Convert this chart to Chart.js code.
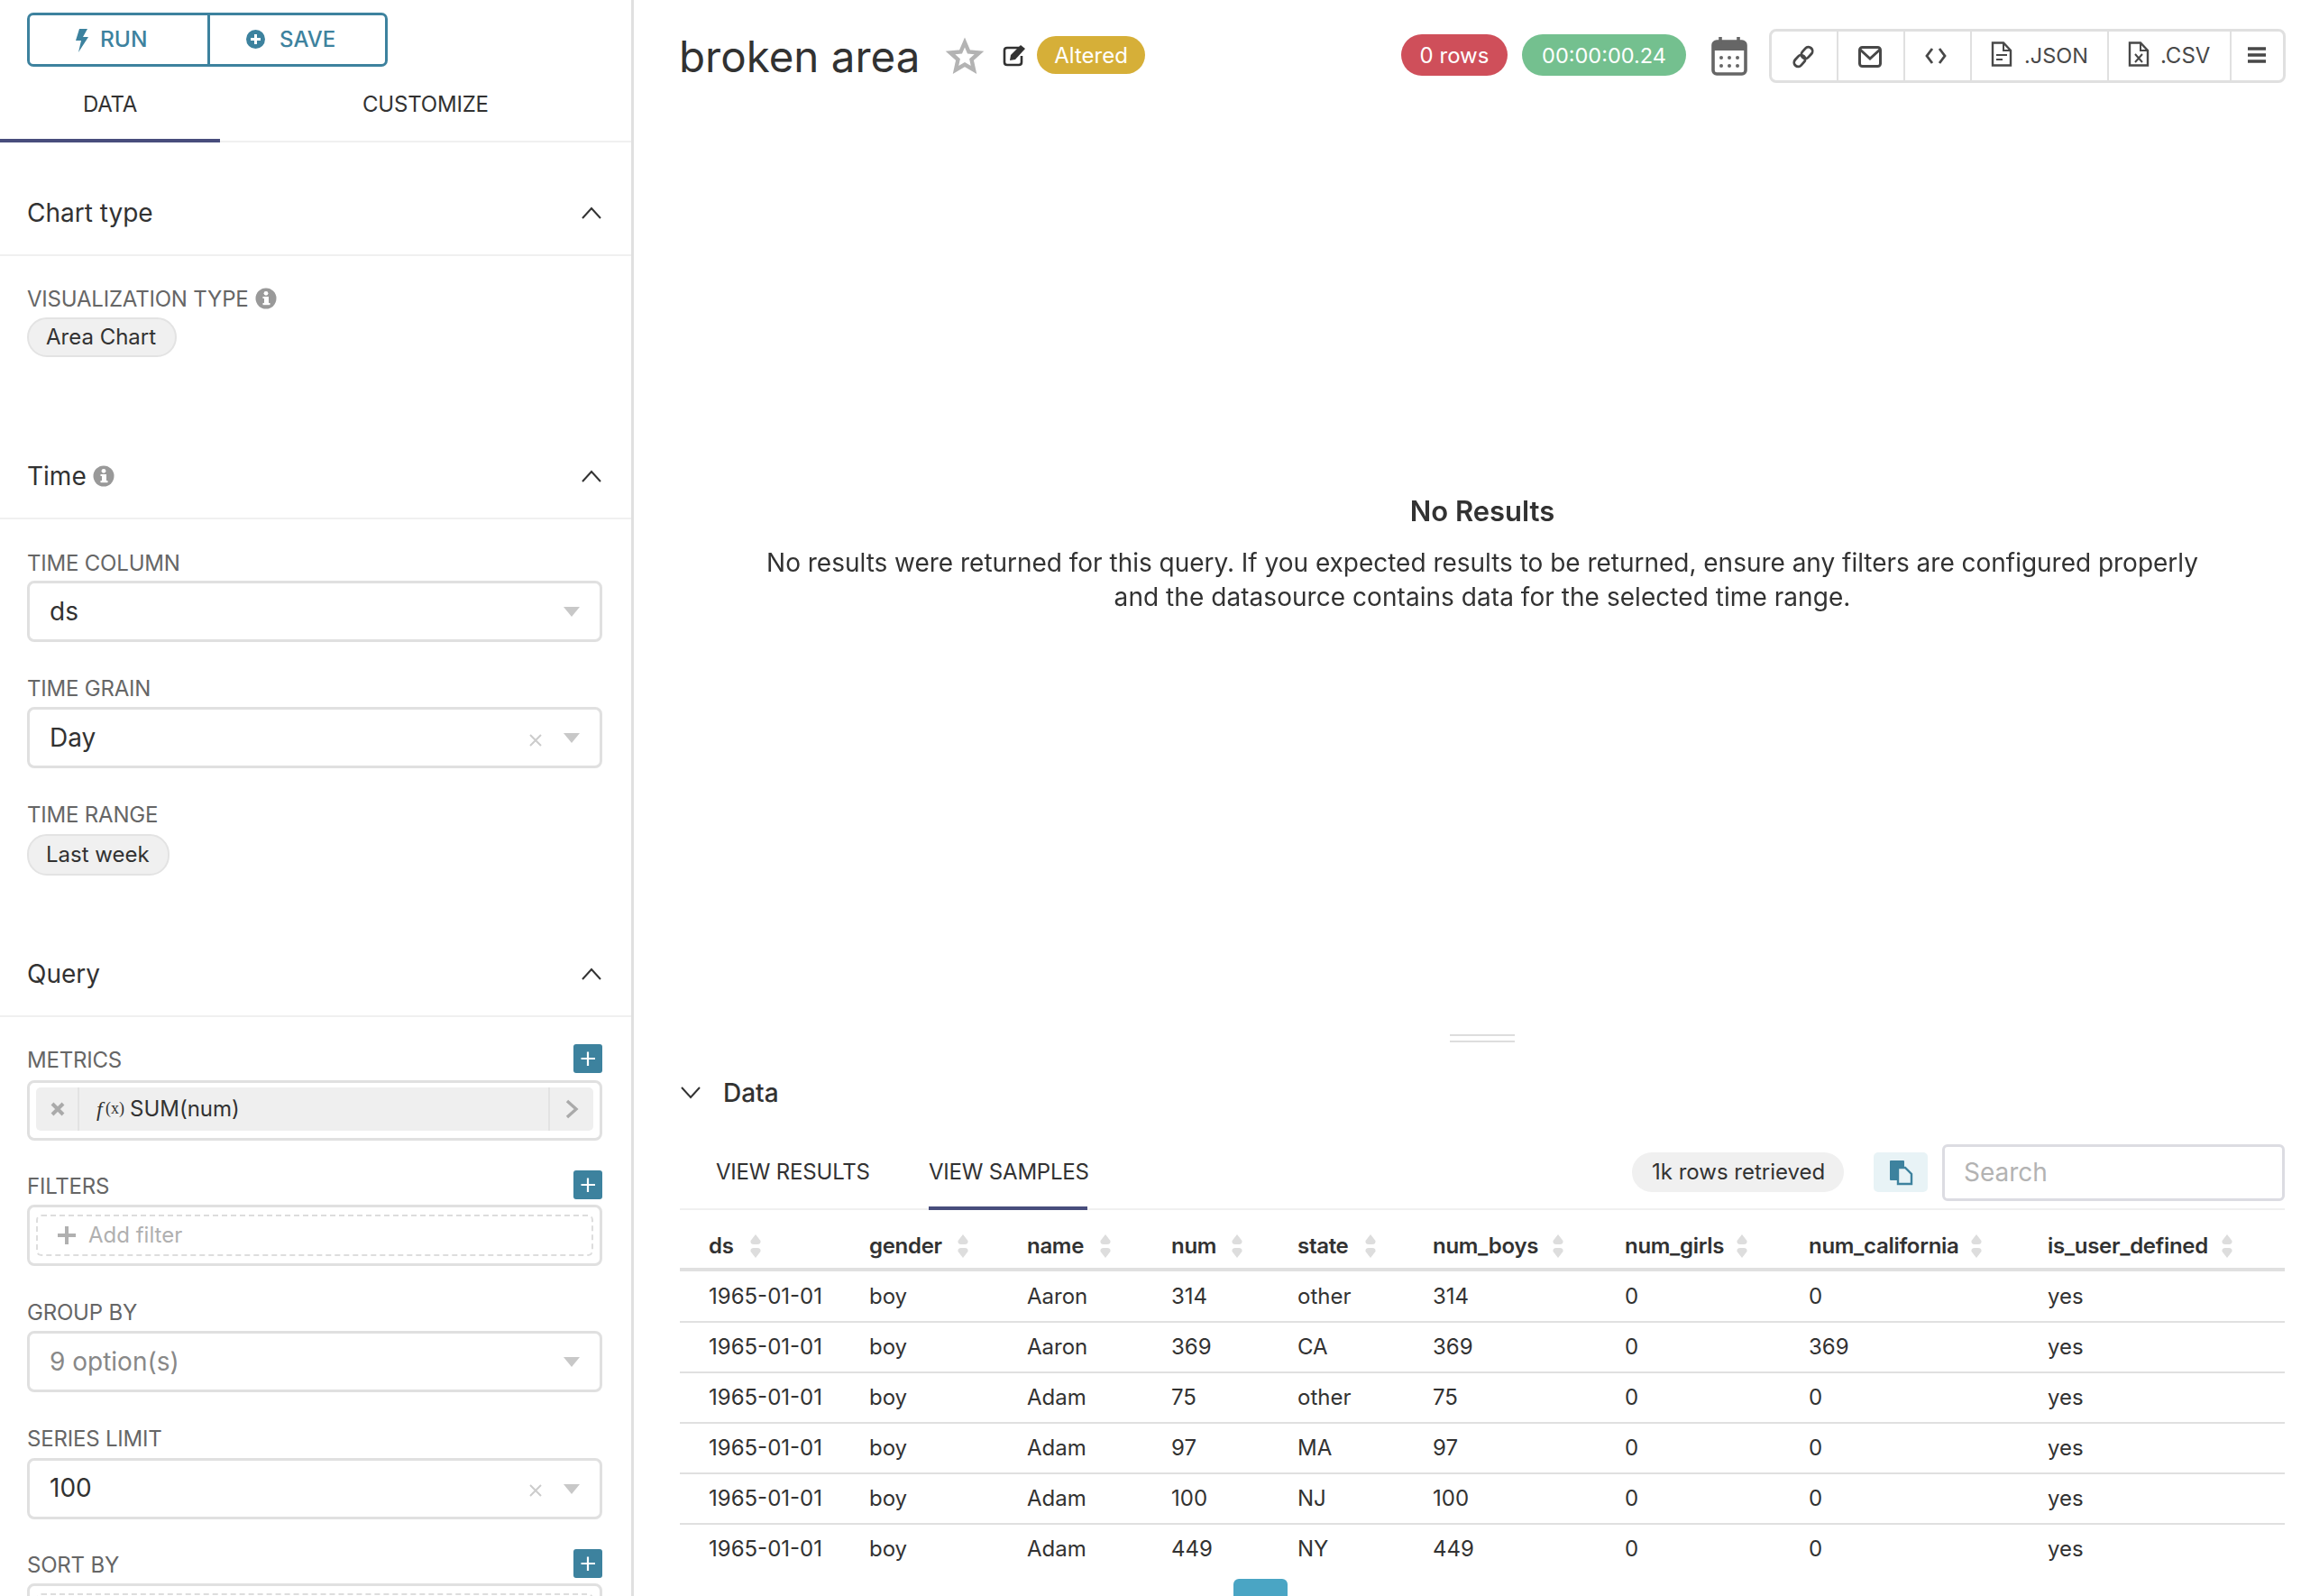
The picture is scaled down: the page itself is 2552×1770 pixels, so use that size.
<!DOCTYPE html>
<html>
<head>
<meta charset="utf-8">
<title>broken area</title>
<script src="https://cdn.jsdelivr.net/npm/chart.js@4"></script>
<style>
html, body { margin: 0; padding: 0; background: #fff; }
#page { position: relative; width: 2552px; height: 1770px; overflow: hidden; font-family: Inter, sans-serif; color: #323232; }
.t { position: absolute; white-space: nowrap; transform: translateY(-50%); line-height: 1.2; }
.b { position: absolute; box-sizing: border-box; }
svg { position: absolute; overflow: visible; }
.sec { font-size: 28px; }
.lab { font-size: 24px; color: #666; letter-spacing: -0.2px; }
.val { font-size: 28px; }
.cell { font-size: 24px; color: #323232; }
.head { font-size: 24px; font-weight: 600; letter-spacing: -0.3px; }
.box { border: 3px solid #e0e0e0; border-radius: 8px; background: #fff; }
.pill { background: #f0f0f0; border: 2px solid #e3e3e3; border-radius: 22px; }
.badge { color: #fff; font-size: 24px; text-align: center; transform: translate(-50%, -50%); }
#chartBox { position: absolute; left: 754px; top: 130px; width: 1780px; height: 990px; }
</style>
</head>
<body>
<div id="page">
  <div id="chartBox"><canvas id="areaChart"></canvas></div>
</div>
<script>
// query came back empty, so the area chart has no points
const chartLabels = [];
const chartValues = [];

const dsCol = ['1965-01-01', '1965-01-01', '1965-01-01', '1965-01-01', '1965-01-01', '1965-01-01'];
const genderCol = ['boy', 'boy', 'boy', 'boy', 'boy', 'boy'];
const nameCol = ['Aaron', 'Aaron', 'Adam', 'Adam', 'Adam', 'Adam'];
const numCol = [314, 369, 75, 97, 100, 449];
const stateCol = ['other', 'CA', 'other', 'MA', 'NJ', 'NY'];
const numBoysCol = [314, 369, 75, 97, 100, 449];
const numGirlsCol = [0, 0, 0, 0, 0, 0];
const numCaliforniaCol = [0, 369, 0, 0, 0, 0];
const isUserDefinedCol = ['yes', 'yes', 'yes', 'yes', 'yes', 'yes'];

const tableCols = [
    { title: 'ds', x: 786, sort: 838, values: dsCol },
    { title: 'gender', x: 964, sort: 1068, values: genderCol },
    { title: 'name', x: 1139, sort: 1226, values: nameCol },
    { title: 'num', x: 1299, sort: 1372, values: numCol },
    { title: 'state', x: 1439, sort: 1520, values: stateCol },
    { title: 'num_boys', x: 1589, sort: 1728, values: numBoysCol },
    { title: 'num_girls', x: 1802, sort: 1932, values: numGirlsCol },
    { title: 'num_california', x: 2006, sort: 2192, values: numCaliforniaCol },
    { title: 'is_user_defined', x: 2271, sort: 2470, values: isUserDefinedCol }
];
const rowY = [1438, 1494, 1550, 1606, 1662, 1718];
const rowLineY = [1465, 1521, 1577, 1633, 1689];

const page = document.getElementById('page');

function txt(x, cy, str, cls, style) {
    const el = document.createElement('div');
    el.className = 't ' + (cls || '');
    el.textContent = str;
    el.style.left = x + 'px';
    el.style.top = cy + 'px';
    if (style) el.style.cssText += style;
    page.appendChild(el);
    return el;
}

function box(x, y, w, h, cls, style) {
    const el = document.createElement('div');
    el.className = 'b ' + (cls || '');
    el.style.cssText = `left:${x}px;top:${y}px;width:${w}px;height:${h}px;` + (style || '');
    page.appendChild(el);
    return el;
}

function line(x, y, w, h, color) {
    return box(x, y, w, h, '', `background:${color};`);
}

function icon(x, y, w, h, inner) {
    const holder = document.createElement('div');
    holder.innerHTML = `<svg style="left:${x}px;top:${y}px" width="${w}" height="${h}" viewBox="0 0 ${w} ${h}">${inner}</svg>`;
    page.appendChild(holder.firstChild);
}

const TEAL = '#3d829e';
const chevronUp = (cx, cy) => icon(cx - 11, cy - 7, 22, 14, '<polyline points="1,13 11,2 21,13" fill="none" stroke="#323232" stroke-width="2"/>');
const caret = (cx, cy) => icon(cx - 9, cy - 5, 18, 11, '<polygon points="0,0 18,0 9,11" fill="#c8c8c8"/>');
const clearX = (cx, cy) => icon(cx - 7, cy - 7, 14, 14, '<path d="M1 1L13 13M13 1L1 13" stroke="#ccc" stroke-width="2"/>');
const infoDot = (cx, cy) => icon(cx - 12, cy - 12, 24, 24, '<circle cx="12" cy="12" r="11.5" fill="#999"/><rect x="10" y="10" width="5" height="8.5" fill="#fff"/><rect x="8.5" y="17" width="8" height="2.2" fill="#fff"/><rect x="8.5" y="10" width="3" height="2" fill="#fff"/><circle cx="12" cy="6.3" r="2.4" fill="#fff"/>');
const plusBtn = (y) => {
    box(636, y, 32, 32, '', `background:${TEAL};border-radius:3px;`);
    icon(636, y, 32, 32, '<path d="M16 8.5V24M8.5 16H24" stroke="#fff" stroke-width="2.2"/>');
};
const sortArrows = (cx, cy) => icon(cx - 6, cy - 13, 12, 26, '<path d="M6 0L11.5 7Q12 11 8 11H4Q0 11 .5 7Z" fill="#ddd"/><path d="M6 26L11.5 19Q12 15 8 15H4Q0 15 .5 19Z" fill="#ddd"/>');

// --- Left control panel ---
line(700, 0, 3, 1770, '#e0e0e0');

box(30, 14, 400, 60, '', `border:3px solid ${TEAL};border-radius:7px;`);
line(230, 14, 3, 60, TEAL);
icon(82, 32, 16, 26, `<polygon points="6,0 15,0 10,9 16,9 5,26 8,13 2,13" fill="${TEAL}"/>`);
txt(111, 44, 'RUN', '', `font-size:24.5px;font-weight:500;color:${TEAL};`);
icon(273, 33, 21, 21, `<circle cx="10.5" cy="10.5" r="10.5" fill="${TEAL}"/><path d="M10.5 5V16M5 10.5H16" stroke="#fff" stroke-width="3"/>`);
txt(310, 44, 'SAVE', '', `font-size:24px;font-weight:500;color:${TEAL};`);

txt(92, 116, 'DATA', '', 'font-size:24px;letter-spacing:-0.2px;');
txt(402, 116, 'CUSTOMIZE', '', 'font-size:24px;letter-spacing:-0.2px;');
line(0, 156, 700, 2, '#f0f0f0');
line(0, 154, 244, 4, '#484d7c');

txt(30, 237, 'Chart type', 'sec');
chevronUp(656, 236);
line(0, 282, 700, 2, '#f0f0f0');
txt(30, 332, 'VISUALIZATION TYPE', 'lab');
infoDot(295, 331);
box(30, 352, 166, 44, 'pill');
txt(51, 374, 'Area Chart', 'cell');

txt(30, 529, 'Time', 'sec');
infoDot(115, 528);
chevronUp(656, 528);
line(0, 574, 700, 2, '#f0f0f0');

txt(30, 625, 'TIME COLUMN', 'lab');
box(30, 644, 638, 68, 'box');
txt(55, 679, 'ds', 'val');
caret(634, 678);

txt(30, 764, 'TIME GRAIN', 'lab');
box(30, 784, 638, 68, 'box');
txt(55, 819, 'Day', 'val');
clearX(594, 821);
caret(634, 818);

txt(30, 904, 'TIME RANGE', 'lab');
box(30, 925, 158, 46, 'pill');
txt(51, 948, 'Last week', 'cell');

txt(30, 1081, 'Query', 'sec');
chevronUp(656, 1080);
line(0, 1126, 700, 2, '#f0f0f0');

txt(30, 1176, 'METRICS', 'lab');
plusBtn(1158);
box(30, 1198, 638, 67, 'box');
box(40, 1206, 618, 48, '', 'background:#efefef;border-radius:5px;');
line(86, 1206, 2, 48, '#e3e3e3');
line(608, 1206, 2, 48, '#e3e3e3');
icon(56, 1222, 16, 16, '<path d="M2 2L14 14M14 2L2 14" stroke="#aaa" stroke-width="4"/>');
txt(107, 1230, 'f', '', 'font-family:"Liberation Serif",serif;font-style:italic;font-size:24px;');
txt(117, 1230, '(x)', '', 'font-family:"Liberation Serif",serif;font-size:18px;');
txt(144, 1230, 'SUM(num)', 'cell');
icon(627, 1219, 14, 22, '<polyline points="2,2 12,11 2,20" fill="none" stroke="#aaa" stroke-width="3.4"/>');

txt(30, 1316, 'FILTERS', 'lab');
plusBtn(1298);
box(30, 1336, 638, 68, 'box');
box(40, 1347, 618, 46, '', 'border:2px dashed #ddd;border-radius:6px;');
icon(64, 1360, 20, 20, '<path d="M10 0V20M0 10H20" stroke="#b0b0b0" stroke-width="4"/>');
txt(98, 1370, 'Add filter', 'cell', 'color:#b0b0b0;');

txt(30, 1456, 'GROUP BY', 'lab');
box(30, 1476, 638, 68, 'box');
txt(55, 1511, '9 option(s)', 'val', 'color:#888;');
caret(634, 1510);

txt(30, 1596, 'SERIES LIMIT', 'lab');
box(30, 1617, 638, 68, 'box');
txt(55, 1651, '100', 'val');
clearX(594, 1653);
caret(634, 1651);

txt(30, 1736, 'SORT BY', 'lab');
plusBtn(1718);
box(30, 1756, 638, 40, 'box');
box(40, 1767, 618, 30, '', 'border:2px dashed #ddd;border-radius:6px;');

// --- Header row ---
txt(753, 62, 'broken area', '', 'font-size:47.5px;');
icon(1052, 44, 36, 36, '<polygon points="18,3 22.5,13.5 34,14.5 25.5,22 28,33.5 18,27.5 8,33.5 10.5,22 2,14.5 13.5,13.5" fill="none" stroke="#b3b3b3" stroke-width="4.4"/>');
icon(1112, 48, 28, 26, '<path d="M19 5H5Q2 5 2 8V21Q2 24 5 24H18Q21 24 21 21V14" fill="none" stroke="#323232" stroke-width="2.6"/><path d="M9 13L20 2L25 6L14 18L8 19Z" fill="#323232"/>');

box(1150, 40, 120, 42, '', 'background:#d6af38;border-radius:21px;');
txt(1210, 62, 'Altered', 'badge');
box(1554, 38, 118, 46, '', 'background:#cf4f5a;border-radius:23px;');
txt(1613, 62, '0 rows', 'badge');
box(1688, 38, 182, 46, '', 'background:#74c08f;border-radius:23px;');
txt(1779, 62, '00:00:00.24', 'badge', 'font-size:23.5px;');

icon(1898, 40, 40, 44, '<rect x="2" y="6" width="36" height="36" rx="4" fill="none" stroke="#666" stroke-width="3.6"/><rect x="2" y="6" width="36" height="10" fill="#666"/><path d="M10 1V9M30 1V9" stroke="#666" stroke-width="3.6"/><g fill="#666"><circle cx="11" cy="24" r="2"/><circle cx="20" cy="24" r="2"/><circle cx="29" cy="24" r="2"/><circle cx="11" cy="33" r="2"/><circle cx="20" cy="33" r="2"/><circle cx="29" cy="33" r="2"/></g>');

box(1962, 32, 573, 60, '', 'border:3px solid #e0e0e0;border-radius:8px;');
[2037, 2111, 2185, 2337, 2473].forEach(x => line(x, 33, 2, 58, '#e0e0e0'));
// link icon: two rounded links on a slant
icon(1987, 49, 26, 28, '<g transform="rotate(42 13 14)" fill="none" stroke="#484848" stroke-width="2.8"><rect x="8.5" y="1" width="9" height="14" rx="4.5"/><rect x="8.5" y="13" width="9" height="14" rx="4.5"/></g>');
icon(2061, 51, 26, 24, '<rect x="1.5" y="1.5" width="23" height="21" rx="3" fill="none" stroke="#484848" stroke-width="3"/><polyline points="2,4 13,14 24,4" fill="none" stroke="#484848" stroke-width="3"/>');
icon(2135, 53, 24, 18, '<polyline points="8,1 2,9 8,17" fill="none" stroke="#484848" stroke-width="2.8"/><polyline points="16,1 22,9 16,17" fill="none" stroke="#484848" stroke-width="2.8"/>');
const fileIcon = (x, mark) => icon(x, 46, 24, 28, `<path d="M2 1.5H14L22 10V26.5H2Z" fill="none" stroke="#484848" stroke-width="2.4"/><path d="M14 1.5V10H22" fill="none" stroke="#484848" stroke-width="2"/>${mark}`);
fileIcon(2208, '<path d="M6 15H18M6 20H13" stroke="#484848" stroke-width="2.2"/>');
fileIcon(2360, '<path d="M8 14L16 23M16 14L8 23" stroke="#484848" stroke-width="2"/>');
txt(2245, 62, '.JSON', '', 'font-size:23.5px;color:#484848;');
txt(2396, 62, '.CSV', '', 'font-size:24px;color:#484848;');
icon(2493, 52, 20, 18, '<path d="M0 2H20M0 9H20M0 16H20" stroke="#484848" stroke-width="3.6"/>');

// --- Empty chart area ---
txt(1644, 567, 'No Results', '', 'font-size:31px;font-weight:600;transform:translate(-50%,-50%);');
txt(1644, 625, 'No results were returned for this query. If you expected results to be returned, ensure any filters are configured properly', '', 'font-size:28px;letter-spacing:-0.02px;transform:translate(-50%,-50%);');
txt(1644, 663, 'and the datasource contains data for the selected time range.', '', 'font-size:28px;letter-spacing:0.05px;transform:translate(-50%,-50%);');

line(1608, 1147, 72, 2, '#ddd');
line(1608, 1154, 72, 2, '#ddd');

// --- Data panel ---
icon(755, 1205, 22, 14, '<polyline points="1,1 11,12 21,1" fill="none" stroke="#323232" stroke-width="2"/>');
txt(802, 1213, 'Data', '', 'font-size:28px;font-weight:500;');
txt(794, 1300, 'VIEW RESULTS', '', 'font-size:24px;letter-spacing:-0.2px;');
txt(1030, 1300, 'VIEW SAMPLES', '', 'font-size:24px;letter-spacing:-0.2px;');
line(754, 1340, 1780, 2, '#f0f0f0');
line(1030, 1338, 176, 4, '#484d7c');

box(1810, 1278, 235, 44, '', 'background:#f0f0f0;border-radius:22px;');
txt(1832, 1300, '1k rows retrieved', 'cell');
box(2078, 1278, 60, 44, '', 'background:#e8f3f6;border-radius:5px;');
icon(2096, 1287, 25, 27, `<rect x="0" y="0" width="16" height="22" rx="1" fill="${TEAL}"/><path d="M9 8H17L24 15V26H9Z" fill="#e8f3f6" stroke="${TEAL}" stroke-width="2.4"/>`);
box(2154, 1269, 380, 63, '', 'border:3px solid #dcdce2;border-radius:6px;');
txt(2178, 1301, 'Search', 'val', 'color:#b3b3b3;');

line(754, 1406, 1780, 4, '#e0e0e0');
rowLineY.forEach(y => line(754, y, 1780, 2, '#e0e0e0'));

tableCols.forEach(col => {
    txt(col.x, 1382, col.title, 'head');
    sortArrows(col.sort, 1382);
    col.values.forEach((v, i) => txt(col.x, rowY[i], String(v), 'cell'));
});

box(1368, 1751, 60, 30, '', 'background:#4aa5c4;border-radius:6px;');

// --- Chart.js: area chart with no rows to draw ---
new Chart(document.getElementById('areaChart'), {
    type: 'line',
    data: {
        labels: chartLabels,
        datasets: [{
            label: 'SUM(num)',
            data: chartValues,
            fill: true,
            borderColor: '#1fa8c9',
            backgroundColor: 'rgba(31,168,201,0.4)'
        }]
    },
    options: {
        responsive: true,
        maintainAspectRatio: false,
        animation: false,
        plugins: { legend: { display: false }, tooltip: { enabled: false } },
        scales: { x: { display: false }, y: { display: false } }
    }
});
</script>
</body>
</html>
